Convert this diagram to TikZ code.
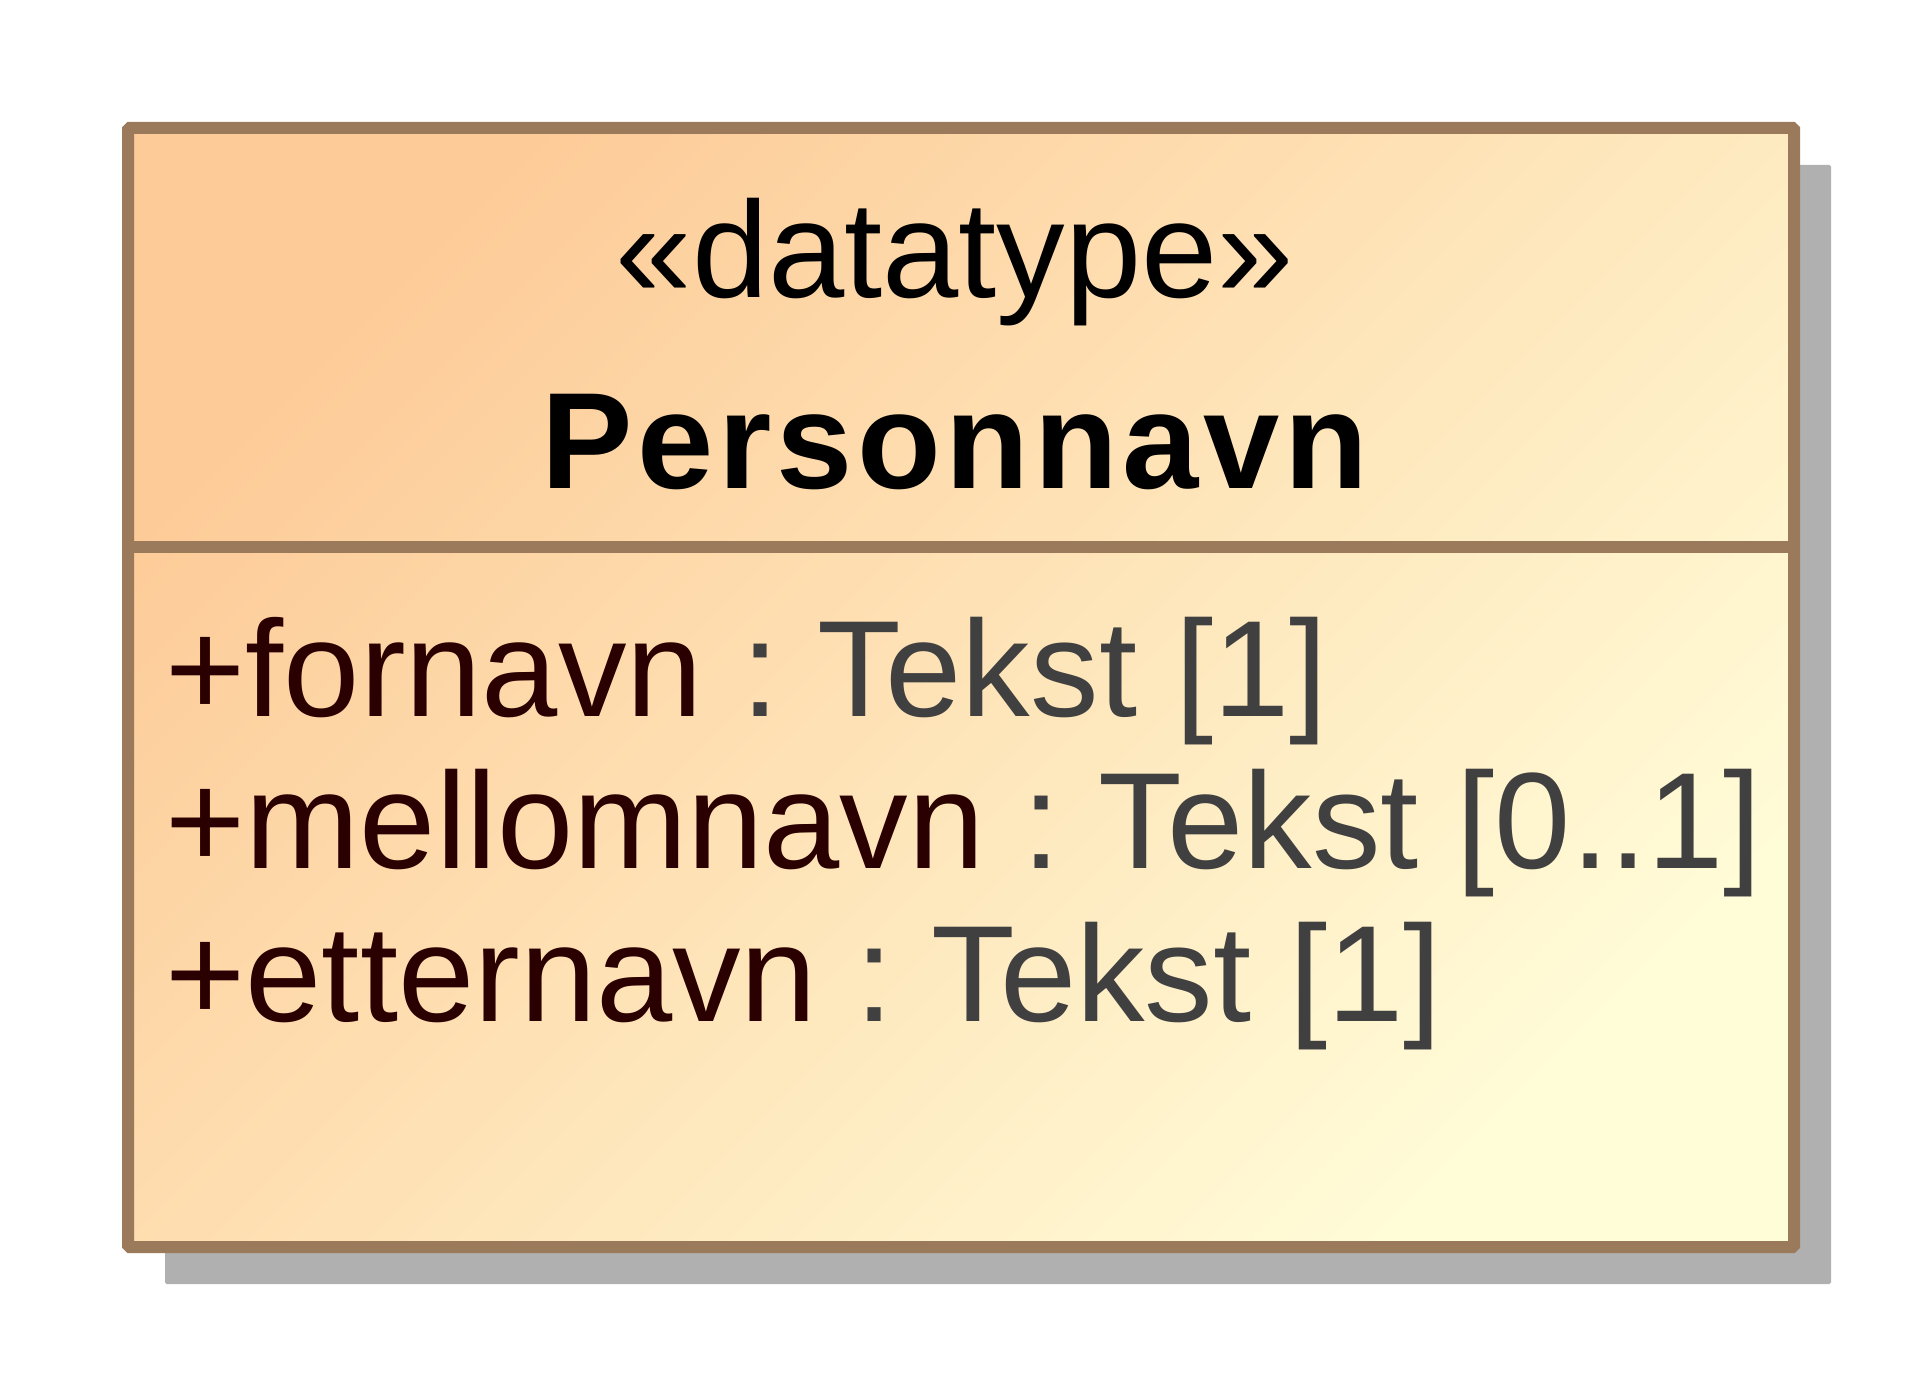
\documentclass[tikz,border=0pt]{standalone}
\usepackage{fontspec}
\usepackage{xcolor}
\usepackage{tikz}
\usetikzlibrary{shadows,positioning}
\setmainfont{Liberation Sans}
\newfontfamily\classnamefont[LetterSpace=3.4]{Liberation Sans}

\definecolor{boxorange}{HTML}{FDCB98}
\definecolor{boxyellow}{HTML}{FFFCD8}
\definecolor{boxborder}{HTML}{9A7A5A}
\definecolor{shadowgray}{HTML}{B0B0B0}
\definecolor{attrname}{HTML}{2A0000}
\definecolor{attrtype}{HTML}{404040}

\begin{document}
\begin{tikzpicture}[
    classbox/.style={rectangle, draw=boxborder, line width=0.12cm, rounded corners=0.5pt,
        top color=boxorange, bottom color=boxyellow, shading angle=45,
        minimum width=16.66cm, minimum height=11.19cm,
        drop shadow={shadow xshift=0.37cm, shadow yshift=-0.37cm, opacity=1, fill=shadowgray}},
    divider/.style={draw=boxborder, line width=0.12cm},
    label/.style={inner sep=0pt, font=\fontsize{39}{47}\selectfont},
    attr/.style={label, anchor=base west}
]

\useasboundingbox[fill=white] (0,0) rectangle (19.2,13.73);

% Class box
\node[classbox] (cls) at (9.61,6.855) {};
\coordinate (sep) at (9.61,8.26);
\draw[divider] (cls.west |- sep) -- (cls.east |- sep);

% Header
\node[label, anchor=base] (stereo) at (9.55,10.753) {«datatype»};
\node[label, anchor=base] (name) at (9.55,8.85) {\classnamefont\bfseries Personnavn};

% Attributes
\node[attr] (fornavn) at (1.65,6.563) {\textcolor{attrname}{+fornavn}\ \textcolor{attrtype}{:\ Tekst\ [1]}};
\node[attr] (mellomnavn) at (1.65,5.05) {\textcolor{attrname}{+mellomnavn}\ \textcolor{attrtype}{:\ Tekst\ [0..1]}};
\node[attr] (etternavn) at (1.65,3.52) {\textcolor{attrname}{+etternavn}\ \textcolor{attrtype}{:\ Tekst\ [1]}};

\end{tikzpicture}
\end{document}
